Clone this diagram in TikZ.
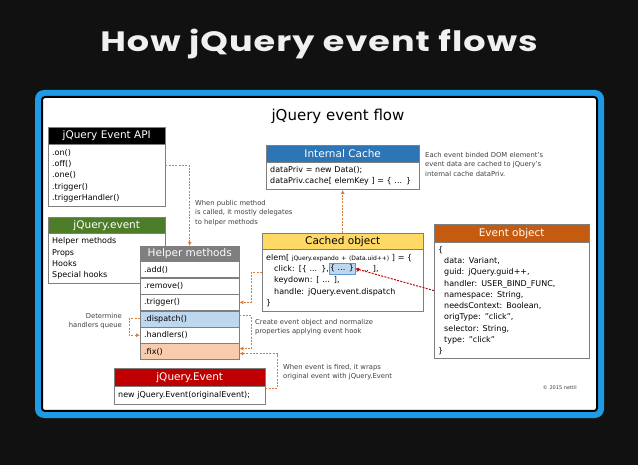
\documentclass[tikz,border=0pt]{standalone}
\usepackage{fontspec}
\setmainfont{DejaVu Sans}
\newfontfamily\slidefont{Poppins}[LetterSpace=3]
\usetikzlibrary{positioning,arrows.meta}
\definecolor{slidebg}{HTML}{111111}
\definecolor{slideblue}{HTML}{1E9BE6}
\definecolor{boxline}{HTML}{7F7F7F}
\definecolor{apiblack}{HTML}{000000}
\definecolor{evgreen}{HTML}{4E7D2A}
\definecolor{helpergray}{HTML}{7F7F7F}
\definecolor{evred}{HTML}{C00000}
\definecolor{cacheblue}{HTML}{2E75B6}
\definecolor{cachedyellow}{HTML}{FFD966}
\definecolor{objorange}{HTML}{C55A11}
\definecolor{dispblue}{HTML}{BDD7EE}
\definecolor{fixorange}{HTML}{F8CBAD}
\definecolor{hlblue}{HTML}{5B9BD5}
\definecolor{flow}{HTML}{E07B39}
\definecolor{notegray}{HTML}{404040}
\newlength\clickw
\AtBeginDocument{\settowidth\clickw{\fontsize{8}{11.3}\selectfont click: [\{ ... \}, }}

\begin{document}
\begin{tikzpicture}[x=1pt,y=-1pt,
	hdr/.style={anchor=north west, draw=boxline, inner sep=0pt, text=white, font=\fontsize{10.5}{12}\selectfont},
	bdy/.style={draw=boxline, fill=white, inner xsep=4pt, inner ysep=0pt, align=left, font=\fontsize{8}{11.3}\selectfont},
	hrow/.style={draw=boxline, fill=white, text width=91pt, inner xsep=4pt, inner ysep=0pt, minimum height=16pt, align=left, font=\fontsize{8}{9}\selectfont},
	note/.style={anchor=north west, inner sep=0pt, align=left, text=notegray, font=\fontsize{6.8}{9.5}\selectfont},
	conn/.style={draw=flow, line width=1pt, dash pattern=on 2pt off 1.3pt, -{Latex[length=4pt,width=4pt]}}
	]
	\useasboundingbox (0,0) rectangle (638,465);
	\fill[slidebg] (0,0) rectangle (638,465);
	\node[transform shape, xscale=1.25, text=white!94!black, font=\slidefont\bfseries\fontsize{28}{30}\selectfont] (title) at (319,44) {How jQuery event flows};
	\fill[slideblue, rounded corners=9pt] (35,90) rectangle (604,418);
	\draw[fill=white, draw=black, line width=2pt, rounded corners=3pt] (42,97) rectangle (597,411);
	\node[font=\fontsize{15}{17}\selectfont] (flowtitle) at (338,116) {jQuery event flow};

	\node[hdr, fill=apiblack, minimum width=117pt, minimum height=17pt] (apiHdr) at (48,127) {jQuery Event API};
	\node[bdy, below=0pt of apiHdr, text width=109pt, minimum height=62pt] (apiBody) {.on()\\.off()\\.one()\\.trigger()\\.triggerHandler()};

	\node[hdr, fill=evgreen, minimum width=117pt, minimum height=16pt] (evHdr) at (48,217) {jQuery.event};
	\node[bdy, below=0pt of evHdr, text width=109pt, minimum height=50pt] (evBody) {Helper methods\\Props\\Hooks\\Special hooks};

	\node[hdr, fill=helpergray, minimum width=99pt, minimum height=15pt] (helperHdr) at (140,246) {Helper methods};
	\node[hrow, below=0pt of helperHdr] (hAdd) {.add()};
	\node[hrow, below=0pt of hAdd] (hRemove) {.remove()};
	\node[hrow, below=0pt of hRemove] (hTrigger) {.trigger()};
	\node[hrow, below=0pt of hTrigger, fill=dispblue] (hDispatch) {.dispatch()};
	\node[hrow, below=0pt of hDispatch] (hHandlers) {.handlers()};
	\node[hrow, below=0pt of hHandlers, fill=fixorange] (hFix) {.fix()};

	\node[hdr, fill=evred, minimum width=151pt, minimum height=18pt] (jqEHdr) at (114,368) {jQuery.Event};
	\node[bdy, below=0pt of jqEHdr, text width=143pt, minimum height=18pt] (jqEBody) {new jQuery.Event(originalEvent);};

	\node[hdr, fill=cacheblue, minimum width=153pt, minimum height=17pt] (cacheHdr) at (266,145) {Internal Cache};
	\node[bdy, below=0pt of cacheHdr, text width=145pt, minimum height=27pt] (cacheBody) {dataPriv = new Data();\\dataPriv.cache[ elemKey ] = \{ ... \}};

	\node[hdr, fill=cachedyellow, text=black, minimum width=161pt, minimum height=16pt] (cachedHdr) at (262,233) {Cached object};
	\node[bdy, below=0pt of cachedHdr, text width=153pt, minimum height=62pt] (cachedBody) {elem[ {\fontsize{6}{6}\selectfont jQuery.expando + (Data.uid++)} ] = \{\\
		\hspace*{8pt}click: [\{ ... \}, \phantom{\{ ... \}}, ... ],\\
		\hspace*{8pt}keydown: [ ... ],\\
		\hspace*{8pt}handle: jQuery.event.dispatch\\
		\}};
	\node[anchor=base west, draw=hlblue, fill=dispblue, inner xsep=1pt, inner ysep=1.5pt, font=\fontsize{8}{9}\selectfont] (hl) at ([xshift=11pt+\clickw, yshift=-21.5pt]cachedBody.north west) {\{ ... \}};

	\node[hdr, fill=objorange, minimum width=155pt, minimum height=18pt] (objHdr) at (434,224) {Event object};
	\node[bdy, below=0pt of objHdr, text width=147pt, minimum height=116pt] (objBody) {\{\\
		\hspace*{6pt}data: Variant,\\
		\hspace*{6pt}guid: jQuery.guid++,\\
		\hspace*{6pt}handler: USER\_BIND\_FUNC,\\
		\hspace*{6pt}namespace: String,\\
		\hspace*{6pt}needsContext: Boolean,\\
		\hspace*{6pt}origType: "click",\\
		\hspace*{6pt}selector: String,\\
		\hspace*{6pt}type: "click"\\
		\}};

	\node[note] (cacheNote) at (425,152) {Each event binded DOM element's\\event data are cached to jQuery's\\internal cache dataPriv.};
	\node[note] (publicNote) at (195,200) {When public method\\is called, it mostly delegates\\to helper methods};
	\node[note, anchor=north east, align=right] (queueNote) at (122,313) {Determine\\handlers queue};
	\node[note] (fixNote) at (255,319) {Create event object and normalize\\properties applying event hook};
	\node[note] (wrapNote) at (283,364) {When event is fired, it wraps\\original event with jQuery.Event};
	\node[note, anchor=east, font=\fontsize{5}{5}\selectfont] (copy) at (577,388) {© 2015 nettil};

	\draw[conn] ([yshift=10pt]apiBody.east) -| (helperHdr.north);
	\draw[conn] (cachedHdr.north) -- (cacheBody.south);
	\draw[conn] ([yshift=8pt]cachedBody.west) -- ++(-11,0) |- (hTrigger.east);
	\draw[conn] ([yshift=3pt]hDispatch.east) -- ++(12,0) |- ([yshift=3pt]hFix.east);
	\draw[conn] ([yshift=-2pt]jqEBody.north east) -- ++(12,0) |- ([yshift=-2pt]hFix.east);
	\draw[conn] (hDispatch.west) -- ++(-11,0) |- (hHandlers.west);
	\draw[conn, draw=evred] ([yshift=10pt]objBody.west) -- (hl.east);
\end{tikzpicture}
\end{document}
